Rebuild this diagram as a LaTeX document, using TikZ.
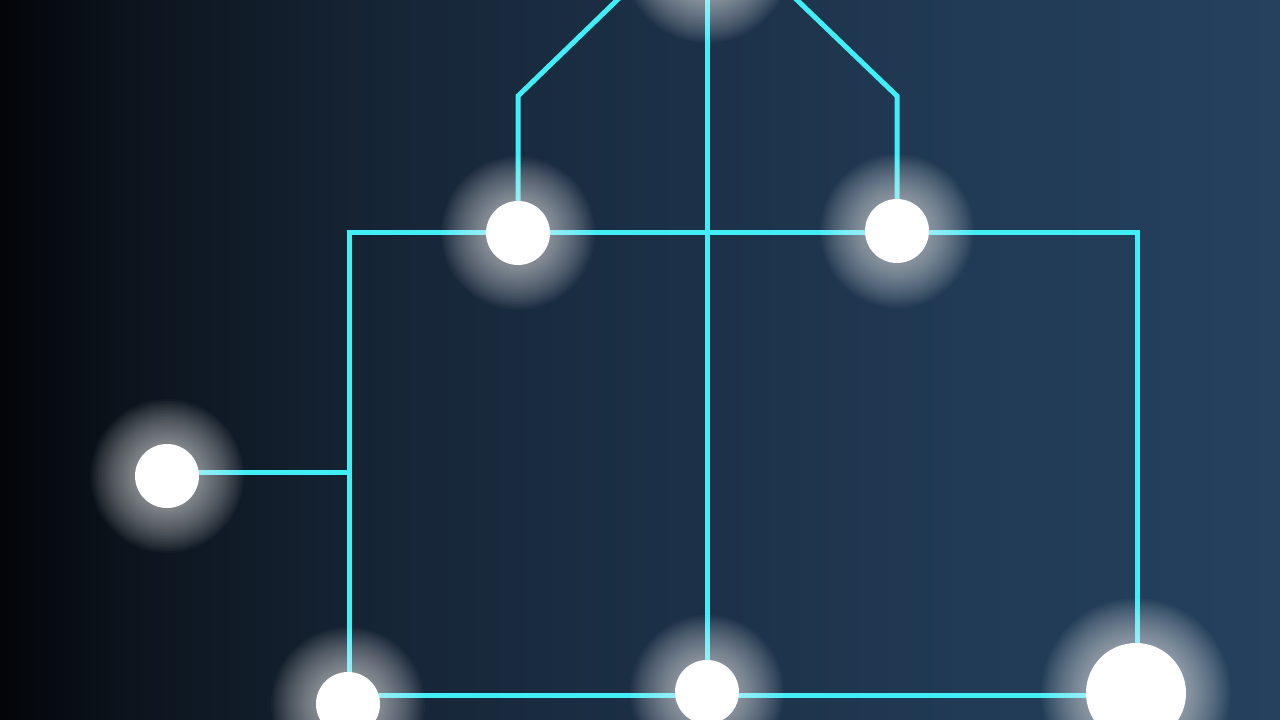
\documentclass[tikz,border=0pt]{standalone}
\pgfdeclarelayer{bg}
\pgfdeclarelayer{lines}
\pgfdeclarelayer{glow}
\pgfsetlayers{bg,lines,glow,main}
\definecolor{bg0}{HTML}{030508}
\definecolor{bg1}{HTML}{0C141D}
\definecolor{bg2}{HTML}{162536}
\definecolor{bg3}{HTML}{1B2F45}
\definecolor{bg4}{HTML}{213A55}
\definecolor{bg5}{HTML}{25415E}
\definecolor{wire}{HTML}{42EEF6}
\pgfdeclarehorizontalshading{bgshade}{100bp}{%
  color(0bp)=(bg0); color(25bp)=(bg0); color(30bp)=(bg1); color(40bp)=(bg2);
  color(50bp)=(bg3); color(62.5bp)=(bg4); color(75bp)=(bg5); color(100bp)=(bg5)}
\tikzset{
  wireline/.style={draw=wire, line width=5pt, line join=miter},
  dot/.style={circle, fill=white, draw=none, inner sep=0pt, minimum size=#1},
}
\newcommand\myglow[2]{%
  \foreach \k [evaluate=\k as \rr using #2+\k*1.5] in {1,...,30}{%
    \fill[white, opacity=0.022] (#1) circle[radius=\rr pt];}}
\begin{document}
\begin{tikzpicture}[x=1pt,y=-1pt]
\useasboundingbox (0,0) rectangle (1280,720);
\begin{pgfonlayer}{bg}
  \fill[shading=bgshade] (0,0) rectangle (1280,720);
\end{pgfonlayer}

% nodes
\node[dot=64pt] (top) at (707,-42) {};
\node[dot=64pt] (n1) at (518,233) {};
\node[dot=64pt] (n2) at (897,231) {};
\node[dot=64pt] (n3) at (167,476) {};
\node[dot=64pt] (n4) at (348,704) {};
\node[dot=64pt] (n5) at (707,692) {};
\node[dot=100pt] (n6) at (1136,693) {};

% corner / free coordinates
\coordinate (ctl) at (349,232);
\coordinate (ctr) at (1137,232);
\coordinate (cbl) at (349,695);
\coordinate (cbr) at (1137,695);
\coordinate (j1) at (349,472);
\coordinate (bl) at (518,96);
\coordinate (br) at (897,96);
\coordinate (fl) at (643,-25);
\coordinate (fr) at (771,-25);

\begin{pgfonlayer}{glow}
  \myglow{top}{40}
  \myglow{n1}{32}
  \myglow{n2}{32}
  \myglow{n3}{32}
  \myglow{n4}{32}
  \myglow{n5}{32}
  \myglow{n6}{50}
\end{pgfonlayer}

\begin{pgfonlayer}{lines}
  \draw[wireline] (top.center) -- (n5.center);
  \draw[wireline] (j1 -| n3.center) -- (j1);
  \draw[wireline] (n4.center |- cbl) -- (cbl) -- (ctl) -- (ctr) -- (cbr) -- (n6.center |- cbr) -- cycle;
  \draw[wireline] (n1.center) -- (bl) -- (fl);
  \draw[wireline] (n2.center) -- (br) -- (fr);
\end{pgfonlayer}
\end{tikzpicture}
\end{document}
